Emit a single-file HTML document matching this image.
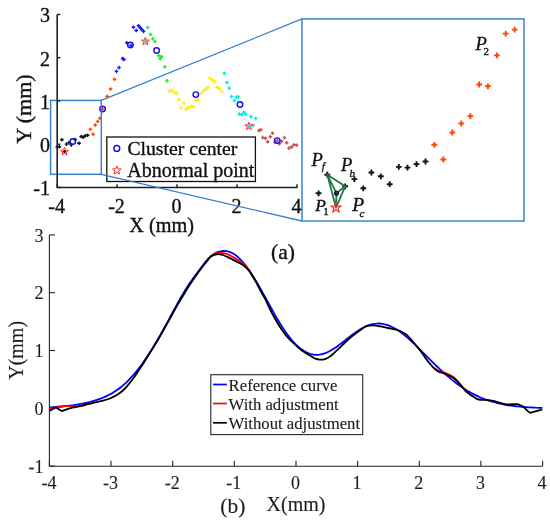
<!DOCTYPE html>
<html lang="en"><head><meta charset="utf-8"><title>Figure</title>
<style>
html,body{margin:0;padding:0;background:#fff;}
body{width:550px;height:525px;overflow:hidden;}
svg{display:block;}
svg text{font-family:"Liberation Serif", "Times New Roman", serif;fill:#111;stroke:#111;stroke-width:.35px;}
svg .b text{fill:#1c1c1c;stroke:#1c1c1c;stroke-width:.12px;}
</style></head><body>
<svg width="550" height="525" viewBox="0 0 550 525">
<rect width="550" height="525" fill="#fff"/>
<path d="M55.5 146.7H59.1M57.3 144.9V148.5" stroke="#111" stroke-width="1.4" fill="none"/>
<path d="M57.6 146.7H61.2M59.4 144.9V148.5" stroke="#111" stroke-width="1.4" fill="none"/>
<path d="M60.1 139.8H63.7M61.9 138.0V141.6" stroke="#111" stroke-width="1.4" fill="none"/>
<path d="M62.7 151.7H66.3M64.5 149.9V153.5" stroke="#111" stroke-width="1.4" fill="none"/>
<path d="M64.7 144.1H68.3M66.5 142.3V145.9" stroke="#111" stroke-width="1.4" fill="none"/>
<path d="M67.2 142.6H70.8M69.0 140.8V144.4" stroke="#111" stroke-width="1.4" fill="none"/>
<path d="M69.5 144.9H73.1M71.3 143.1V146.7" stroke="#111" stroke-width="1.4" fill="none"/>
<path d="M73.3 139.5H76.9M75.1 137.7V141.3" stroke="#111" stroke-width="1.4" fill="none"/>
<path d="M77.2 143.3H80.8M79.0 141.5V145.1" stroke="#111" stroke-width="1.4" fill="none"/>
<path d="M79.4 136.5H83.0M81.2 134.7V138.3" stroke="#111" stroke-width="1.4" fill="none"/>
<path d="M81.4 137.2H85.0M83.2 135.4V139.0" stroke="#111" stroke-width="1.4" fill="none"/>
<path d="M83.6 135.7H87.2M85.4 133.9V137.5" stroke="#111" stroke-width="1.4" fill="none"/>
<path d="M85.8 135.3H89.4M87.6 133.5V137.1" stroke="#111" stroke-width="1.4" fill="none"/>
<path d="M88.6 129.2H92.2M90.4 127.4V131.0" stroke="#ff4500" stroke-width="1.4" fill="none"/>
<path d="M91.3 134.2H94.9M93.1 132.4V136.0" stroke="#ff4500" stroke-width="1.4" fill="none"/>
<path d="M93.5 125.0H97.1M95.3 123.2V126.8" stroke="#ff4500" stroke-width="1.4" fill="none"/>
<path d="M95.9 121.5H99.5M97.7 119.7V123.3" stroke="#ff4500" stroke-width="1.4" fill="none"/>
<path d="M98.2 118.2H101.8M100.0 116.4V120.0" stroke="#ff4500" stroke-width="1.4" fill="none"/>
<path d="M100.8 109.0H104.4M102.6 107.2V110.8" stroke="#ff4500" stroke-width="1.4" fill="none"/>
<path d="M105.3 96.4H108.9M107.1 94.6V98.2" stroke="#ff4500" stroke-width="1.4" fill="none"/>
<path d="M108.7 89.0H112.3M110.5 87.2V90.8" stroke="#ff4500" stroke-width="1.4" fill="none"/>
<path d="M112.7 79.3H116.3M114.5 77.5V81.1" stroke="#ff4500" stroke-width="1.4" fill="none"/>
<path d="M114.7 71.4H118.3M116.5 69.6V73.2" stroke="#1414ff" stroke-width="1.4" fill="none"/>
<path d="M117.2 67.6H120.8M119.0 65.8V69.4" stroke="#1414ff" stroke-width="1.4" fill="none"/>
<path d="M120.8 58.5H124.4M122.6 56.7V60.3" stroke="#1414ff" stroke-width="1.4" fill="none"/>
<path d="M122.1 59.5H125.7M123.9 57.7V61.3" stroke="#1414ff" stroke-width="1.4" fill="none"/>
<path d="M125.0 42.7H128.6M126.8 40.9V44.5" stroke="#1414ff" stroke-width="1.4" fill="none"/>
<path d="M129.1 45.5H132.7M130.9 43.7V47.3" stroke="#1414ff" stroke-width="1.4" fill="none"/>
<path d="M131.7 27.3H135.3M133.5 25.5V29.1" stroke="#1414ff" stroke-width="1.4" fill="none"/>
<path d="M134.4 30.5H138.0M136.2 28.7V32.3" stroke="#1414ff" stroke-width="1.4" fill="none"/>
<path d="M136.7 25.7H140.3M138.5 23.9V27.5" stroke="#1414ff" stroke-width="1.4" fill="none"/>
<path d="M138.4 27.7H142.0M140.2 25.9V29.5" stroke="#1414ff" stroke-width="1.4" fill="none"/>
<path d="M140.0 29.5H143.6M141.8 27.7V31.3" stroke="#1414ff" stroke-width="1.4" fill="none"/>
<path d="M141.8 31.4H145.4M143.6 29.6V33.2" stroke="#1414ff" stroke-width="1.4" fill="none"/>
<path d="M145.9 27.5H149.5M147.7 25.7V29.3" stroke="#22ee22" stroke-width="1.4" fill="none"/>
<path d="M148.7 34.5H152.3M150.5 32.7V36.3" stroke="#22ee22" stroke-width="1.4" fill="none"/>
<path d="M150.9 38.8H154.5M152.7 37.0V40.6" stroke="#22ee22" stroke-width="1.4" fill="none"/>
<path d="M153.2 41.5H156.8M155.0 39.7V43.3" stroke="#22ee22" stroke-width="1.4" fill="none"/>
<path d="M143.7 41.4H147.3M145.5 39.6V43.2" stroke="#22ee22" stroke-width="1.4" fill="none"/>
<path d="M156.9 55.7H160.5M158.7 53.9V57.5" stroke="#22ee22" stroke-width="1.4" fill="none"/>
<path d="M158.4 58.8H162.0M160.2 57.0V60.6" stroke="#22ee22" stroke-width="1.4" fill="none"/>
<path d="M159.9 56.5H163.5M161.7 54.7V58.3" stroke="#22ee22" stroke-width="1.4" fill="none"/>
<path d="M163.0 66.7H166.6M164.8 64.9V68.5" stroke="#22ee22" stroke-width="1.4" fill="none"/>
<path d="M165.2 80.9H168.8M167.0 79.1V82.7" stroke="#22ee22" stroke-width="1.4" fill="none"/>
<path d="M167.6 91.1H171.2M169.4 89.3V92.9" stroke="#ffee00" stroke-width="1.4" fill="none"/>
<path d="M170.1 90.4H173.7M171.9 88.6V92.2" stroke="#ffee00" stroke-width="1.4" fill="none"/>
<path d="M172.7 92.7H176.3M174.5 90.9V94.5" stroke="#ffee00" stroke-width="1.4" fill="none"/>
<path d="M175.0 93.4H178.6M176.8 91.6V95.2" stroke="#ffee00" stroke-width="1.4" fill="none"/>
<path d="M177.2 99.5H180.8M179.0 97.7V101.3" stroke="#ffee00" stroke-width="1.4" fill="none"/>
<path d="M182.1 102.9H185.7M183.9 101.1V104.7" stroke="#ffee00" stroke-width="1.4" fill="none"/>
<path d="M179.5 107.6H183.1M181.3 105.8V109.4" stroke="#ffee00" stroke-width="1.4" fill="none"/>
<path d="M184.4 109.4H188.0M186.2 107.6V111.2" stroke="#ffee00" stroke-width="1.4" fill="none"/>
<path d="M186.7 107.6H190.3M188.5 105.8V109.4" stroke="#ffee00" stroke-width="1.4" fill="none"/>
<path d="M189.4 106.4H193.0M191.2 104.6V108.2" stroke="#ffee00" stroke-width="1.4" fill="none"/>
<path d="M191.7 106.7H195.3M193.5 104.9V108.5" stroke="#ffee00" stroke-width="1.4" fill="none"/>
<path d="M194.0 100.3H197.6M195.8 98.5V102.1" stroke="#ffee00" stroke-width="1.4" fill="none"/>
<path d="M196.3 100.0H199.9M198.1 98.2V101.8" stroke="#ffee00" stroke-width="1.4" fill="none"/>
<path d="M199.3 93.4H202.9M201.1 91.6V95.2" stroke="#ffee00" stroke-width="1.4" fill="none"/>
<path d="M201.6 91.1H205.2M203.4 89.3V92.9" stroke="#ffee00" stroke-width="1.4" fill="none"/>
<path d="M203.9 89.3H207.5M205.7 87.5V91.1" stroke="#ffee00" stroke-width="1.4" fill="none"/>
<path d="M206.2 87.3H209.8M208.0 85.5V89.1" stroke="#ffee00" stroke-width="1.4" fill="none"/>
<path d="M208.2 78.2H211.8M210.0 76.4V80.0" stroke="#ffee00" stroke-width="1.4" fill="none"/>
<path d="M210.5 80.0H214.1M212.3 78.2V81.8" stroke="#ffee00" stroke-width="1.4" fill="none"/>
<path d="M212.8 81.7H216.4M214.6 79.9V83.5" stroke="#ffee00" stroke-width="1.4" fill="none"/>
<path d="M215.3 87.3H218.9M217.1 85.5V89.1" stroke="#ffee00" stroke-width="1.4" fill="none"/>
<path d="M217.6 88.9H221.2M219.4 87.1V90.7" stroke="#ffee00" stroke-width="1.4" fill="none"/>
<path d="M220.2 91.4H223.8M222.0 89.6V93.2" stroke="#ffee00" stroke-width="1.4" fill="none"/>
<path d="M222.5 73.2H226.1M224.3 71.4V75.0" stroke="#00e8e8" stroke-width="1.4" fill="none"/>
<path d="M225.2 82.5H228.8M227.0 80.7V84.3" stroke="#00e8e8" stroke-width="1.4" fill="none"/>
<path d="M227.5 88.1H231.1M229.3 86.3V89.9" stroke="#00e8e8" stroke-width="1.4" fill="none"/>
<path d="M229.8 96.5H233.4M231.6 94.7V98.3" stroke="#00e8e8" stroke-width="1.4" fill="none"/>
<path d="M232.6 100.6H236.2M234.4 98.8V102.4" stroke="#00e8e8" stroke-width="1.4" fill="none"/>
<path d="M234.4 97.2H238.0M236.2 95.4V99.0" stroke="#00e8e8" stroke-width="1.4" fill="none"/>
<path d="M236.7 96.9H240.3M238.5 95.1V98.7" stroke="#00e8e8" stroke-width="1.4" fill="none"/>
<path d="M242.2 112.3H245.8M244.0 110.5V114.1" stroke="#00e8e8" stroke-width="1.4" fill="none"/>
<path d="M240.0 114.7H243.6M241.8 112.9V116.5" stroke="#00e8e8" stroke-width="1.4" fill="none"/>
<path d="M243.8 114.3H247.4M245.6 112.5V116.1" stroke="#00e8e8" stroke-width="1.4" fill="none"/>
<path d="M249.1 116.9H252.7M250.9 115.1V118.7" stroke="#00e8e8" stroke-width="1.4" fill="none"/>
<path d="M254.0 118.4H257.6M255.8 116.6V120.2" stroke="#00e8e8" stroke-width="1.4" fill="none"/>
<path d="M251.4 125.4H255.0M253.2 123.6V127.2" stroke="#00e8e8" stroke-width="1.4" fill="none"/>
<path d="M247.1 126.2H250.7M248.9 124.4V128.0" stroke="#00e8e8" stroke-width="1.4" fill="none"/>
<path d="M237.4 114.0H241.0M239.2 112.2V115.8" stroke="#00e8e8" stroke-width="1.4" fill="none"/>
<path d="M257.1 130.6H260.7M258.9 128.8V132.4" stroke="#c8504c" stroke-width="1.4" fill="none"/>
<path d="M259.0 129.7H262.6M260.8 127.9V131.5" stroke="#c8504c" stroke-width="1.4" fill="none"/>
<path d="M261.0 137.6H264.6M262.8 135.8V139.4" stroke="#c8504c" stroke-width="1.4" fill="none"/>
<path d="M263.6 138.2H267.2M265.4 136.4V140.0" stroke="#c8504c" stroke-width="1.4" fill="none"/>
<path d="M265.9 141.7H269.5M267.7 139.9V143.5" stroke="#c8504c" stroke-width="1.4" fill="none"/>
<path d="M268.5 136.7H272.1M270.3 134.9V138.5" stroke="#c8504c" stroke-width="1.4" fill="none"/>
<path d="M270.7 133.3H274.3M272.5 131.5V135.1" stroke="#c8504c" stroke-width="1.4" fill="none"/>
<path d="M273.2 142.2H276.8M275.0 140.4V144.0" stroke="#c8504c" stroke-width="1.4" fill="none"/>
<path d="M275.5 140.6H279.1M277.3 138.8V142.4" stroke="#c8504c" stroke-width="1.4" fill="none"/>
<path d="M277.6 143.7H281.2M279.4 141.9V145.5" stroke="#c8504c" stroke-width="1.4" fill="none"/>
<path d="M279.9 141.4H283.5M281.7 139.6V143.2" stroke="#c8504c" stroke-width="1.4" fill="none"/>
<path d="M282.6 137.6H286.2M284.4 135.8V139.4" stroke="#c8504c" stroke-width="1.4" fill="none"/>
<path d="M284.9 142.8H288.5M286.7 141.0V144.6" stroke="#c8504c" stroke-width="1.4" fill="none"/>
<path d="M287.2 148.1H290.8M289.0 146.3V149.9" stroke="#c8504c" stroke-width="1.4" fill="none"/>
<path d="M289.8 147.0H293.4M291.6 145.2V148.8" stroke="#c8504c" stroke-width="1.4" fill="none"/>
<path d="M292.2 144.8H295.8M294.0 143.0V146.6" stroke="#c8504c" stroke-width="1.4" fill="none"/>
<path d="M294.8 145.2H298.4M296.6 143.4V147.0" stroke="#c8504c" stroke-width="1.4" fill="none"/>
<circle cx="72.9" cy="141.5" r="2.75" fill="none" stroke="#1010f0" stroke-width="1.45"/>
<circle cx="102.6" cy="109.0" r="2.75" fill="none" stroke="#1010f0" stroke-width="1.45"/>
<circle cx="130.4" cy="45.0" r="2.75" fill="none" stroke="#1010f0" stroke-width="1.45"/>
<circle cx="156.6" cy="50.5" r="2.75" fill="none" stroke="#1010f0" stroke-width="1.45"/>
<circle cx="195.8" cy="94.6" r="2.75" fill="none" stroke="#1010f0" stroke-width="1.45"/>
<circle cx="240.0" cy="104.4" r="2.75" fill="none" stroke="#1010f0" stroke-width="1.45"/>
<circle cx="277.3" cy="140.6" r="2.75" fill="none" stroke="#1010f0" stroke-width="1.45"/>
<polygon points="64.50,147.50 65.54,150.27 68.49,150.40 66.18,152.25 66.97,155.10 64.50,153.46 62.03,155.10 62.82,152.25 60.51,150.40 63.46,150.27" fill="none" stroke="#ff2a2a" stroke-width="1.0"/>
<polygon points="145.40,37.30 146.44,40.07 149.39,40.20 147.08,42.05 147.87,44.90 145.40,43.26 142.93,44.90 143.72,42.05 141.41,40.20 144.36,40.07" fill="none" stroke="#ff2a2a" stroke-width="1.0"/>
<polygon points="248.90,122.00 249.94,124.77 252.89,124.90 250.58,126.75 251.37,129.60 248.90,127.96 246.43,129.60 247.22,126.75 244.91,124.90 247.86,124.77" fill="none" stroke="#ff2a2a" stroke-width="1.0"/>
<rect x="50.6" y="100.4" width="50.7" height="73.9" fill="none" stroke="#3482cc" stroke-width="1.45"/>
<rect x="302" y="18.9" width="222" height="202.1" fill="none" stroke="#3482cc" stroke-width="1.45"/>
<path d="M57.2 14.5V187.4H297.5" fill="none" stroke="#1c1c1c" stroke-width="1.55"/>
<path d="M57.2 14.5h3.2" stroke="#1c1c1c" stroke-width="1.4"/>
<text x="50" y="22.4" text-anchor="end" font-size="20">3</text>
<path d="M57.2 57.7h3.2" stroke="#1c1c1c" stroke-width="1.4"/>
<text x="50" y="65.6" text-anchor="end" font-size="20">2</text>
<path d="M57.2 100.9h3.2" stroke="#1c1c1c" stroke-width="1.4"/>
<text x="50" y="108.8" text-anchor="end" font-size="20">1</text>
<path d="M57.2 144.2h3.2" stroke="#1c1c1c" stroke-width="1.4"/>
<text x="50" y="152.1" text-anchor="end" font-size="20">0</text>
<path d="M57.2 187.4h3.2" stroke="#1c1c1c" stroke-width="1.4"/>
<text x="50" y="195.3" text-anchor="end" font-size="20">-1</text>
<path d="M57.2 187.4v-3.2" stroke="#1c1c1c" stroke-width="1.4"/>
<text x="56.7" y="212.5" text-anchor="middle" font-size="20">-4</text>
<path d="M117 187.4v-3.2" stroke="#1c1c1c" stroke-width="1.4"/>
<text x="116.5" y="212.5" text-anchor="middle" font-size="20">-2</text>
<path d="M177 187.4v-3.2" stroke="#1c1c1c" stroke-width="1.4"/>
<text x="176.5" y="212.5" text-anchor="middle" font-size="20">0</text>
<path d="M237 187.4v-3.2" stroke="#1c1c1c" stroke-width="1.4"/>
<text x="236.5" y="212.5" text-anchor="middle" font-size="20">2</text>
<path d="M297 187.4v-3.2" stroke="#1c1c1c" stroke-width="1.4"/>
<text x="296.5" y="212.5" text-anchor="middle" font-size="20">4</text>
<text transform="translate(31.4,143.8) rotate(-90)" font-size="22">Y (mm)</text>
<text x="129.2" y="232" font-size="20.3">X (mm)</text>
<text x="271" y="258.8" font-size="21.5">(a)</text>
<rect x="106.8" y="137" width="148.6" height="44.5" fill="#fff" stroke="#111" stroke-width="1.3"/>
<path d="M101.3 100.4L302 18.9M101.3 174.3L302 221" fill="none" stroke="#3482cc" stroke-width="1.3"/>
<circle cx="116.8" cy="148.4" r="2.9" fill="none" stroke="#1010f0" stroke-width="1.45"/>
<polygon points="116.80,165.90 117.91,168.87 121.08,169.01 118.60,170.98 119.45,174.04 116.80,172.29 114.15,174.04 115.00,170.98 112.52,169.01 115.69,168.87" fill="none" stroke="#ff2a2a" stroke-width="1.0"/>
<text x="127.4" y="155.2" font-size="19.7">Cluster center</text>
<text x="127.2" y="176.8" font-size="20">Abnormal point</text>
<path d="M315.7 193.3H321.5M318.6 190.4V196.2" stroke="#111" stroke-width="1.9" fill="none"/>
<path d="M324.4 174.7H330.2M327.3 171.8V177.6" stroke="#111" stroke-width="1.9" fill="none"/>
<path d="M342.3 186.3H348.1M345.2 183.4V189.2" stroke="#111" stroke-width="1.9" fill="none"/>
<path d="M351.5 179.1H357.3M354.4 176.2V182.0" stroke="#111" stroke-width="1.9" fill="none"/>
<path d="M360.4 188.3H366.2M363.3 185.4V191.2" stroke="#111" stroke-width="1.9" fill="none"/>
<path d="M368.5 172.5H374.3M371.4 169.6V175.4" stroke="#111" stroke-width="1.9" fill="none"/>
<path d="M377.9 176.3H383.7M380.8 173.4V179.2" stroke="#111" stroke-width="1.9" fill="none"/>
<path d="M386.8 184.2H392.6M389.7 181.3V187.1" stroke="#111" stroke-width="1.9" fill="none"/>
<path d="M395.9 166.9H401.7M398.8 164.0V169.8" stroke="#111" stroke-width="1.9" fill="none"/>
<path d="M404.6 167.6H410.4M407.5 164.7V170.5" stroke="#111" stroke-width="1.9" fill="none"/>
<path d="M413.6 164.1H419.4M416.5 161.2V167.0" stroke="#111" stroke-width="1.9" fill="none"/>
<path d="M422.6 161.5H428.4M425.5 158.6V164.4" stroke="#111" stroke-width="1.9" fill="none"/>
<path d="M431.4 144.8H437.2M434.3 141.9V147.7" stroke="#ff4500" stroke-width="1.9" fill="none"/>
<path d="M440.4 159.5H446.2M443.3 156.6V162.4" stroke="#ff4500" stroke-width="1.9" fill="none"/>
<path d="M449.4 132.5H455.2M452.3 129.6V135.4" stroke="#ff4500" stroke-width="1.9" fill="none"/>
<path d="M458.4 123.5H464.2M461.3 120.6V126.4" stroke="#ff4500" stroke-width="1.9" fill="none"/>
<path d="M467.4 116.1H473.2M470.3 113.2V119.0" stroke="#ff4500" stroke-width="1.9" fill="none"/>
<path d="M476.3 84.5H482.1M479.2 81.6V87.4" stroke="#ff4500" stroke-width="1.9" fill="none"/>
<path d="M485.0 86.3H490.8M487.9 83.4V89.2" stroke="#ff4500" stroke-width="1.9" fill="none"/>
<path d="M494.0 55.4H499.8M496.9 52.5V58.3" stroke="#ff4500" stroke-width="1.9" fill="none"/>
<path d="M502.8 33.6H508.6M505.7 30.7V36.5" stroke="#ff4500" stroke-width="1.9" fill="none"/>
<path d="M511.7 29.6H517.5M514.6 26.7V32.5" stroke="#ff4500" stroke-width="1.9" fill="none"/>
<path d="M327.3 174.7L345.2 186.3L336 207.6ZM336.5 193.3L327.3 174.7M336.5 193.3L345.2 186.3M336.5 193.3L336 207.6" fill="none" stroke="#1f7a4a" stroke-width="1.8" stroke-linejoin="round"/>
<polygon points="336.00,202.40 337.28,205.83 340.95,205.99 338.08,208.27 339.06,211.81 336.00,209.78 332.94,211.81 333.92,208.27 331.05,205.99 334.72,205.83" fill="none" stroke="#ff2a2a" stroke-width="1.2"/>
<circle cx="336.5" cy="193.3" r="2.2" fill="#333" stroke="#111" stroke-width="1"/>
<text x="311.6" y="165.8" font-size="18.5" font-style="italic">P</text><text x="321.8" y="170" font-size="11" font-style="italic">f</text>
<text x="341" y="170.6" font-size="18.5" font-style="italic">P</text><text x="349.6" y="176.6" font-size="11" font-style="italic">b</text>
<text x="315.2" y="210.6" font-size="17.5" font-style="italic">P</text><text x="323.3" y="215.2" font-size="11">1</text>
<text x="352.3" y="210.6" font-size="19.5" font-style="italic">P</text><text x="359.6" y="216.5" font-size="11" font-style="italic">c</text>
<text x="475.4" y="49.7" font-size="18.5" font-style="italic">P</text><text x="483.4" y="54.9" font-size="11">2</text>
<g class="b">
<path d="M49.4 234.9V466.3H542.8" fill="none" stroke="#262626" stroke-width="1.1"/>
<path d="M49.4 234.9h5.6" stroke="#262626" stroke-width="1.1"/>
<text x="43.6" y="241.5" text-anchor="end" font-size="18">3</text>
<path d="M49.4 292.7h5.6" stroke="#262626" stroke-width="1.1"/>
<text x="43.6" y="299.3" text-anchor="end" font-size="18">2</text>
<path d="M49.4 350.5h5.6" stroke="#262626" stroke-width="1.1"/>
<text x="43.6" y="357.1" text-anchor="end" font-size="18">1</text>
<path d="M49.4 408.3h5.6" stroke="#262626" stroke-width="1.1"/>
<text x="43.6" y="414.9" text-anchor="end" font-size="18">0</text>
<path d="M49.4 466.1h5.6" stroke="#262626" stroke-width="1.1"/>
<text x="43.6" y="472.7" text-anchor="end" font-size="18">-1</text>
<path d="M49.4 466.3v-5.6" stroke="#262626" stroke-width="1.1"/>
<text x="48.9" y="489.2" text-anchor="middle" font-size="18">-4</text>
<path d="M111.0 466.3v-5.6" stroke="#262626" stroke-width="1.1"/>
<text x="110.5" y="489.2" text-anchor="middle" font-size="18">-3</text>
<path d="M172.7 466.3v-5.6" stroke="#262626" stroke-width="1.1"/>
<text x="172.2" y="489.2" text-anchor="middle" font-size="18">-2</text>
<path d="M234.3 466.3v-5.6" stroke="#262626" stroke-width="1.1"/>
<text x="233.8" y="489.2" text-anchor="middle" font-size="18">-1</text>
<path d="M296.0 466.3v-5.6" stroke="#262626" stroke-width="1.1"/>
<text x="295.5" y="489.2" text-anchor="middle" font-size="18">0</text>
<path d="M357.6 466.3v-5.6" stroke="#262626" stroke-width="1.1"/>
<text x="357.1" y="489.2" text-anchor="middle" font-size="18">1</text>
<path d="M419.3 466.3v-5.6" stroke="#262626" stroke-width="1.1"/>
<text x="418.8" y="489.2" text-anchor="middle" font-size="18">2</text>
<path d="M480.9 466.3v-5.6" stroke="#262626" stroke-width="1.1"/>
<text x="480.4" y="489.2" text-anchor="middle" font-size="18">3</text>
<path d="M542.6 466.3v-5.6" stroke="#262626" stroke-width="1.1"/>
<text x="542.1" y="489.2" text-anchor="middle" font-size="18">4</text>
<text transform="translate(22.5,379.8) rotate(-90)" font-size="20">Y(mm)</text>
<text x="266.6" y="510.8" font-size="20">X(mm)</text>
<text x="220.3" y="512.7" font-size="21.5">(b)</text>
<path d="M49.5 407.3C50.0 407.3 51.5 407.2 52.5 407.1C53.5 407.1 54.5 407.0 55.5 407.0C56.5 406.9 57.5 406.8 58.5 406.7C59.5 406.7 60.5 406.6 61.5 406.5C62.5 406.4 63.5 406.3 64.5 406.2C65.5 406.1 66.5 406.0 67.5 405.9C68.5 405.8 69.5 405.7 70.5 405.6C71.5 405.4 72.5 405.3 73.5 405.2C74.5 405.0 75.5 404.9 76.5 404.7C77.5 404.5 78.5 404.4 79.5 404.2C80.5 404.0 81.5 403.8 82.5 403.6C83.5 403.4 84.5 403.2 85.5 403.0C86.5 402.8 87.5 402.6 88.5 402.3C89.5 402.1 90.5 401.8 91.5 401.5C92.5 401.3 93.5 401.0 94.5 400.7C95.5 400.4 96.5 400.1 97.5 399.7C98.5 399.4 99.5 399.0 100.5 398.7C101.5 398.3 102.5 397.9 103.5 397.5C104.5 397.1 105.5 396.6 106.5 396.1C107.5 395.7 108.5 395.2 109.5 394.6C110.5 394.1 111.5 393.6 112.5 393.0C113.5 392.4 114.5 391.8 115.5 391.1C116.5 390.4 117.5 389.7 118.5 389.0C119.5 388.3 120.5 387.5 121.5 386.7C122.5 385.8 123.5 385.0 124.5 384.1C125.5 383.2 126.5 382.3 127.5 381.3C128.5 380.3 129.5 379.3 130.5 378.2C131.5 377.1 132.5 376.0 133.5 374.9C134.5 373.7 135.5 372.5 136.5 371.3C137.5 370.0 138.5 368.8 139.5 367.4C140.5 366.1 141.5 364.8 142.5 363.4C143.5 362.0 144.5 360.6 145.5 359.1C146.5 357.6 147.5 356.1 148.5 354.6C149.5 353.0 150.5 351.5 151.5 349.9C152.5 348.3 153.5 346.6 154.5 345.0C155.5 343.3 156.5 341.6 157.5 339.9C158.5 338.2 159.5 336.4 160.5 334.7C161.5 332.9 162.5 331.1 163.5 329.3C164.5 327.5 165.5 325.7 166.5 323.9C167.5 322.0 168.5 320.2 169.5 318.3C170.5 316.5 171.5 314.6 172.5 312.8C173.5 310.9 174.5 309.0 175.5 307.2C176.5 305.3 177.5 303.5 178.5 301.7C179.5 299.9 180.5 298.1 181.5 296.3C182.5 294.6 183.5 292.8 184.5 291.2C185.5 289.5 186.5 287.9 187.5 286.4C188.5 284.9 189.5 283.4 190.5 282.0C191.5 280.5 192.5 279.2 193.5 277.8C194.5 276.5 195.5 275.1 196.5 273.8C197.5 272.5 198.5 271.1 199.5 269.8C200.5 268.4 201.5 267.1 202.5 265.8C203.5 264.4 204.5 263.1 205.5 261.9C206.5 260.7 207.5 259.5 208.5 258.4C209.5 257.4 210.5 256.4 211.5 255.6C212.5 254.7 213.5 254.0 214.5 253.5C215.5 252.9 216.5 252.4 217.5 252.1C218.5 251.7 219.5 251.4 220.5 251.3C221.5 251.1 222.5 251.0 223.5 251.0C224.5 251.0 225.5 251.1 226.5 251.2C227.5 251.4 228.5 251.6 229.5 251.9C230.5 252.3 231.5 252.7 232.5 253.2C233.5 253.8 234.5 254.4 235.5 255.1C236.5 255.8 237.5 256.7 238.5 257.6C239.5 258.5 240.5 259.5 241.5 260.6C242.5 261.6 243.5 262.8 244.5 264.0C245.5 265.3 246.5 266.6 247.5 267.9C248.5 269.3 249.5 270.8 250.5 272.2C251.5 273.7 252.5 275.3 253.5 276.9C254.5 278.5 255.5 280.1 256.5 281.8C257.5 283.5 258.5 285.3 259.5 287.0C260.5 288.8 261.5 290.6 262.5 292.4C263.5 294.2 264.5 296.0 265.5 297.8C266.5 299.6 267.5 301.5 268.5 303.3C269.5 305.1 270.5 307.0 271.5 308.8C272.5 310.6 273.5 312.4 274.5 314.1C275.5 315.9 276.5 317.6 277.5 319.3C278.5 321.0 279.5 322.6 280.5 324.2C281.5 325.8 282.5 327.4 283.5 328.9C284.5 330.4 285.5 331.8 286.5 333.2C287.5 334.6 288.5 336.0 289.5 337.2C290.5 338.5 291.5 339.7 292.5 340.9C293.5 342.0 294.5 343.1 295.5 344.1C296.5 345.1 297.5 346.0 298.5 346.9C299.5 347.8 300.5 348.6 301.5 349.3C302.5 350.1 303.5 350.7 304.5 351.3C305.5 351.9 306.5 352.4 307.5 352.9C308.5 353.3 309.5 353.7 310.5 354.0C311.5 354.3 312.5 354.5 313.5 354.6C314.5 354.8 315.5 354.8 316.5 354.8C317.5 354.8 318.5 354.8 319.5 354.6C320.5 354.5 321.5 354.3 322.5 354.0C323.5 353.8 324.5 353.4 325.5 353.1C326.5 352.7 327.5 352.2 328.5 351.7C329.5 351.2 330.5 350.7 331.5 350.1C332.5 349.5 333.5 348.9 334.5 348.2C335.5 347.6 336.5 346.9 337.5 346.2C338.5 345.5 339.5 344.7 340.5 343.9C341.5 343.2 342.5 342.4 343.5 341.6C344.5 340.8 345.5 340.0 346.5 339.2C347.5 338.5 348.5 337.7 349.5 336.9C350.5 336.1 351.5 335.3 352.5 334.6C353.5 333.8 354.5 333.1 355.5 332.4C356.5 331.7 357.5 331.0 358.5 330.4C359.5 329.7 360.5 329.1 361.5 328.5C362.5 328.0 363.5 327.4 364.5 327.0C365.5 326.5 366.5 326.0 367.5 325.6C368.5 325.3 369.5 324.9 370.5 324.6C371.5 324.3 372.5 324.1 373.5 323.9C374.5 323.7 375.5 323.6 376.5 323.6C377.5 323.5 378.5 323.5 379.5 323.5C380.5 323.6 381.5 323.7 382.5 323.8C383.5 324.0 384.5 324.2 385.5 324.5C386.5 324.7 387.5 325.0 388.5 325.4C389.5 325.8 390.5 326.2 391.5 326.7C392.5 327.2 393.5 327.7 394.5 328.2C395.5 328.8 396.5 329.4 397.5 330.1C398.5 330.7 399.5 331.4 400.5 332.1C401.5 332.9 402.5 333.6 403.5 334.4C404.5 335.2 405.5 336.0 406.5 336.9C407.5 337.7 408.5 338.6 409.5 339.5C410.5 340.4 411.5 341.3 412.5 342.3C413.5 343.2 414.5 344.2 415.5 345.1C416.5 346.1 417.5 347.1 418.5 348.1C419.5 349.1 420.5 350.1 421.5 351.1C422.5 352.1 423.5 353.1 424.5 354.1C425.5 355.1 426.5 356.1 427.5 357.1C428.5 358.1 429.5 359.1 430.5 360.1C431.5 361.1 432.5 362.1 433.5 363.1C434.5 364.1 435.5 365.0 436.5 366.0C437.5 367.0 438.5 367.9 439.5 368.9C440.5 369.8 441.5 370.7 442.5 371.6C443.5 372.6 444.5 373.5 445.5 374.3C446.5 375.2 447.5 376.1 448.5 376.9C449.5 377.8 450.5 378.6 451.5 379.4C452.5 380.2 453.5 381.0 454.5 381.8C455.5 382.6 456.5 383.3 457.5 384.1C458.5 384.8 459.5 385.5 460.5 386.2C461.5 386.9 462.5 387.6 463.5 388.3C464.5 388.9 465.5 389.5 466.5 390.2C467.5 390.8 468.5 391.4 469.5 391.9C470.5 392.5 471.5 393.1 472.5 393.6C473.5 394.1 474.5 394.6 475.5 395.1C476.5 395.6 477.5 396.1 478.5 396.5C479.5 397.0 480.5 397.4 481.5 397.9C482.5 398.3 483.5 398.7 484.5 399.0C485.5 399.4 486.5 399.8 487.5 400.1C488.5 400.5 489.5 400.8 490.5 401.1C491.5 401.4 492.5 401.7 493.5 402.0C494.5 402.3 495.5 402.6 496.5 402.8C497.5 403.1 498.5 403.3 499.5 403.5C500.5 403.8 501.5 404.0 502.5 404.2C503.5 404.4 504.5 404.6 505.5 404.8C506.5 404.9 507.5 405.1 508.5 405.3C509.5 405.4 510.5 405.6 511.5 405.7C512.5 405.8 513.5 406.0 514.5 406.1C515.5 406.2 516.5 406.3 517.5 406.4C518.5 406.5 519.5 406.6 520.5 406.7C521.5 406.8 522.5 406.9 523.5 407.0C524.5 407.0 525.5 407.1 526.5 407.2C527.5 407.3 528.5 407.3 529.5 407.4C530.5 407.4 531.5 407.5 532.5 407.5C533.5 407.6 534.5 407.6 535.5 407.7C536.5 407.7 537.5 407.7 538.5 407.8C539.5 407.8 540.9 407.9 541.5 407.9C542.1 407.9 542.2 407.9 542.4 407.9" fill="none" stroke="#0000ff" stroke-width="1.8"/>
<path d="M49.5 408.7C50.5 408.5 55.6 407.6 55.9 407.5C56.2 407.4 59.6 406.7 61.4 406.5C63.2 406.2 66.1 405.8 67.7 405.8C69.3 405.8 70.2 406.4 72.3 406.4C74.4 406.5 79.2 406.5 81.4 406.2C83.6 406.0 85.4 404.9 86.8 404.5C88.2 404.1 89.9 403.7 90.5 403.5" fill="none" stroke="#ff0000" stroke-width="1.8" stroke-linejoin="round"/>
<path d="M207.3 260.6C207.8 260.0 209.5 257.5 210.9 256.4C212.3 255.3 214.8 253.7 216.4 253.2C218.0 252.7 220.2 252.8 221.8 252.9C223.4 253.1 225.7 253.6 227.3 254.2C228.9 254.8 231.1 256.0 232.7 256.9C234.3 257.8 236.6 259.1 238.2 260.2C239.8 261.3 242.2 263.3 243.6 264.5C245.0 265.7 245.9 266.2 247.5 268.4C249.1 270.6 253.4 277.6 254.5 279.2" fill="none" stroke="#ff0000" stroke-width="1.8" stroke-linejoin="round"/>
<path d="M434.1 367.7C434.8 368.1 437.2 370.0 438.6 370.7C440.0 371.4 441.8 371.7 443.2 372.2C444.6 372.7 446.3 373.4 447.7 374.0C449.1 374.6 450.9 375.4 452.3 376.3C453.7 377.2 455.4 378.8 456.8 380.2C458.2 381.6 460.0 384.2 461.4 385.9C462.8 387.5 465.2 390.4 465.9 391.2" fill="none" stroke="#ff0000" stroke-width="1.8" stroke-linejoin="round"/>
<path d="M49.5 410.9C50.5 410.4 55.6 407.5 55.9 407.5C56.2 407.5 61.3 411.0 61.7 411.0C62.1 411.0 69.3 408.5 72.3 407.7C75.3 406.9 78.7 406.3 81.4 405.6C84.1 405.0 87.8 404.2 90.5 403.5C93.2 402.9 96.8 402.0 99.5 401.4C102.2 400.7 105.9 400.1 108.6 399.0C111.3 398.0 115.2 396.1 117.7 394.5C120.2 392.9 122.8 390.7 125.0 388.5C127.2 386.3 130.1 382.7 132.3 379.8C134.5 376.9 137.6 372.1 139.5 369.2C141.4 366.4 143.6 363.0 145.0 360.7C146.4 358.5 147.0 357.6 149.0 354.3C151.0 351.0 155.7 343.7 158.6 338.8C161.5 333.9 165.2 327.1 168.1 321.9C170.9 316.8 175.8 307.8 177.6 304.6C179.4 301.5 178.3 303.7 180.0 300.9C181.7 298.0 186.4 290.1 189.1 285.8C191.8 281.5 195.5 276.2 198.2 272.4C200.9 268.7 205.4 263.0 207.3 260.6C209.2 258.2 209.5 257.4 210.9 256.4C212.3 255.4 214.8 254.6 216.4 254.3C218.0 254.0 220.2 254.3 221.8 254.7C223.4 255.1 225.7 256.2 227.3 256.9C228.9 257.6 231.1 258.8 232.7 259.6C234.3 260.4 236.6 261.6 238.2 262.5C239.8 263.4 242.0 264.4 243.6 265.6C245.2 266.8 247.5 268.6 249.1 270.6C250.7 272.6 252.6 275.9 254.5 279.2C256.4 282.6 260.2 290.1 261.8 293.0C263.4 295.9 263.4 295.6 265.0 298.7C266.6 301.8 270.1 309.7 272.3 313.8C274.5 317.9 277.3 322.8 279.5 326.2C281.7 329.6 284.6 333.7 286.8 336.4C289.0 339.0 291.9 341.7 294.1 343.7C296.3 345.8 299.2 348.5 301.4 350.2C303.6 351.8 306.7 353.5 308.6 354.7C310.5 355.9 312.5 357.4 314.1 358.1C315.7 358.9 317.9 359.4 319.5 359.6C321.1 359.7 323.4 359.6 325.0 359.1C326.6 358.6 328.6 357.5 330.5 356.1C332.4 354.7 335.5 351.7 337.7 349.6C339.9 347.6 342.8 344.6 345.0 342.5C347.2 340.5 350.1 337.8 352.3 336.0C354.5 334.3 357.5 332.2 359.5 330.7C361.5 329.3 363.8 327.3 365.9 326.5C368.0 325.6 371.0 325.3 373.2 325.3C375.4 325.3 378.3 326.0 380.5 326.4C382.7 326.8 385.5 327.6 387.7 328.0C389.9 328.5 393.1 328.9 395.0 329.4C396.9 329.9 398.7 330.5 400.5 331.3C402.3 332.2 404.9 333.3 406.8 334.9C408.7 336.5 411.1 339.6 413.2 342.0C415.3 344.4 418.3 348.1 420.5 351.0C422.7 353.8 426.3 359.2 427.7 361.0C429.1 362.8 428.5 362.1 429.5 363.2C430.5 364.3 432.7 367.1 434.1 368.4C435.5 369.7 437.2 370.9 438.6 371.6C440.0 372.3 441.8 372.7 443.2 373.2C444.6 373.7 446.3 374.4 447.7 375.0C449.1 375.6 450.9 376.4 452.3 377.3C453.7 378.2 455.4 379.6 456.8 380.9C458.2 382.2 460.0 384.4 461.4 385.9C462.8 387.4 463.8 389.4 465.9 391.2C468.0 393.0 473.2 396.7 475.5 398.1C477.8 399.4 480.9 399.9 481.3 399.9C481.7 400.0 488.2 399.9 490.8 400.3C493.4 400.6 496.2 401.7 498.5 402.3C500.8 402.9 503.2 404.0 506.1 404.3C509.0 404.5 517.0 404.1 517.5 404.2C518.0 404.3 523.0 406.4 523.3 406.6C523.6 406.9 529.5 412.7 530.0 412.8C530.5 412.8 540.5 410.0 542.4 409.5" fill="none" stroke="#000" stroke-width="1.8" stroke-linejoin="round"/>
<rect x="210.8" y="374.7" width="151.9" height="59.9" fill="#fff" stroke="#262626" stroke-width="1.1"/>
<path d="M213.1 384.5H226.8" stroke="#0000ff" stroke-width="1.7"/>
<path d="M213.1 403.5H226.8" stroke="#ff0000" stroke-width="1.7"/>
<path d="M213.1 422.8H226.8" stroke="#000" stroke-width="1.7"/>
<text x="228.6" y="391" font-size="16.7">Reference curve</text>
<text x="228.6" y="410.2" font-size="16.7">With adjustment</text>
<text x="228.6" y="429.4" font-size="16.7">Without adjustment</text>
</g>
</svg>
</body></html>
